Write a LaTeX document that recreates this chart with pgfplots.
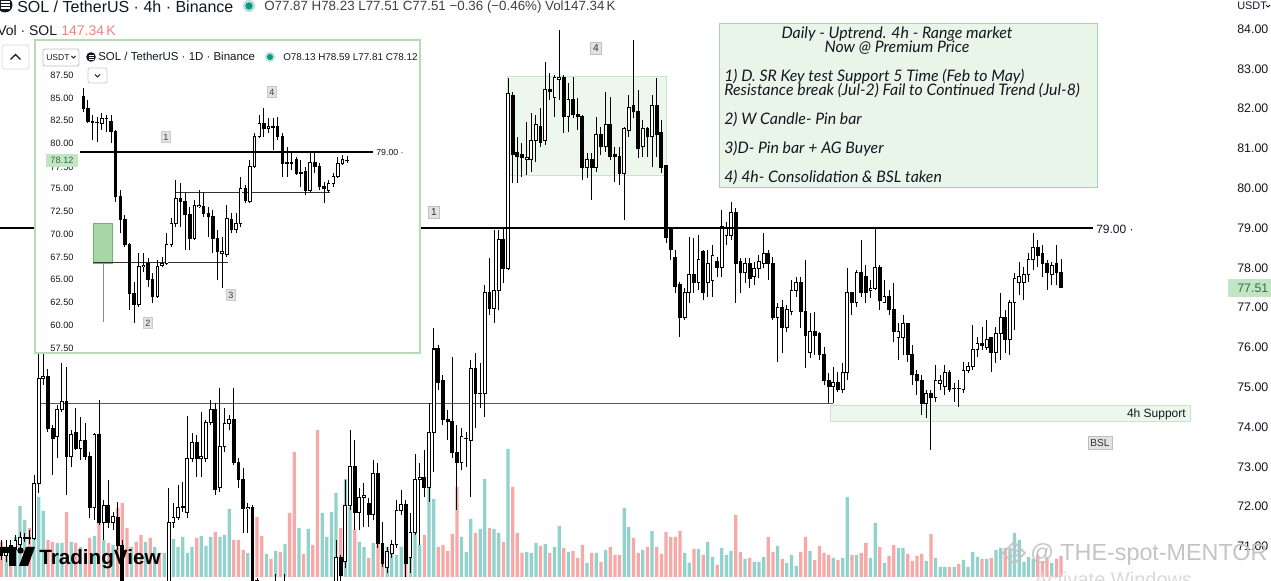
\documentclass[border=0pt]{standalone}
\usepackage{pgfplots}
\pgfplotsset{compat=1.18}
\usepackage{pgfplotstable}
\usepackage{fontspec}
\setmainfont{Liberation Sans}
\newfontfamily\boxfont{Lato}
\definecolor{tvtext}{HTML}{131722}
\definecolor{volup}{RGB}{146,210,204}
\definecolor{voldn}{RGB}{247,169,167}
\definecolor{boxfill}{RGB}{232,245,232}
\definecolor{boxborder}{RGB}{165,214,167}
\definecolor{consfill}{RGB}{237,247,237}
\definecolor{consborder}{RGB}{200,230,201}
\definecolor{insetborder}{RGB}{183,218,183}
\definecolor{lblgray}{RGB}{226,226,226}
\definecolor{tealdot}{HTML}{089981}
\definecolor{pinktext}{RGB}{240,130,130}
\definecolor{wm}{RGB}{196,196,196}
\definecolor{lastlbl}{RGB}{196,228,198}
\definecolor{lastlbltext}{RGB}{40,120,60}
\definecolor{insetgreen}{RGB}{168,214,168}
\definecolor{insetgreenb}{RGB}{110,180,110}

\pgfplotstableread{
k o h l c v
0 70.96 71.16 70.66 70.76 245
1 70.76 71.16 70.61 70.96 210
2 71.03 71.16 70.71 70.86 175
3 70.91 71.29 70.78 71.16 280
4 71.06 71.36 70.96 71.23 497
5 71.21 71.33 71.11 71.23 399
6 71.23 71.41 71.06 71.21 343
7 71.21 72.79 71.16 72.59 315
8 72.59 76.06 72.34 75.23 560
9 75.23 76.19 75.05 75.28 462
10 75.26 75.46 73.87 73.97 259
11 73.97 74.05 72.79 73.70 245
12 73.75 74.55 73.22 74.43 238
13 74.43 75.61 74.38 74.63 238
14 74.63 75.51 72.29 73.25 455
15 73.25 73.92 73.00 73.80 245
16 73.85 74.48 73.42 73.47 238
17 73.47 74.25 73.17 73.67 210
18 73.67 74.10 73.17 73.25 189
19 73.25 73.37 71.71 71.99 273
20 71.99 73.85 71.66 73.80 287
21 73.80 74.68 71.54 71.61 399
22 71.61 72.17 71.16 72.04 259
23 72.04 72.67 71.46 71.61 238
24 71.61 71.86 71.41 71.76 224
25 71.73 72.12 70.91 71.03 483
26 71.03 71.16 69.90 70.15 518
27 70.10 70.12 69.30 69.60 343
28 69.60 69.95 69.40 69.85 210
29 69.85 69.95 68.95 69.20 245
30 69.20 69.50 68.70 68.95 294
31 68.95 69.55 68.80 69.40 245
32 69.40 69.60 68.90 69.10 273
33 69.10 69.80 69.00 69.60 210
34 69.60 69.85 69.20 69.40 168
35 69.40 70.05 69.30 69.95 168
36 69.95 72.47 69.85 71.59 140
37 71.59 72.09 71.46 71.73 266
38 71.73 72.54 71.66 71.99 210
39 71.99 72.62 71.86 72.01 280
40 71.84 74.28 71.71 73.22 168
41 73.22 73.85 73.12 73.62 210
42 73.62 73.80 72.74 73.20 273
43 73.20 74.38 72.74 73.25 287
44 73.22 74.18 73.12 74.12 217
45 74.12 74.68 74.05 74.43 280
46 74.43 74.60 72.29 72.42 315
47 72.47 74.98 72.37 73.50 280
48 73.50 74.48 73.37 74.10 294
49 74.10 74.30 73.92 74.18 476
50 74.18 74.98 73.05 73.12 259
51 73.12 73.22 72.47 72.67 259
52 72.67 72.97 71.33 71.96 189
53 71.96 72.09 71.33 71.99 168
54 71.99 72.04 69.90 70.15 448
55 70.15 70.20 69.40 69.65 420
56 69.65 69.90 69.02 69.28 287
57 69.35 69.95 69.20 69.78 161
58 69.78 69.98 69.28 69.45 126
59 69.45 70.30 69.35 69.95 182
60 69.95 70.05 69.35 69.53 175
61 69.53 70.30 69.45 69.90 231
62 69.90 70.05 69.10 69.28 448
63 69.28 69.60 68.65 68.90 875
64 68.90 69.85 68.77 69.65 343
65 69.65 69.90 69.15 69.35 161
66 69.35 69.95 69.20 69.85 336
67 69.85 69.98 69.35 69.53 224
68 69.53 69.80 68.65 68.90 1029
69 68.90 69.78 68.85 69.60 448
70 69.60 69.95 69.48 69.85 280
71 69.85 70.10 69.65 70.05 455
72 70.05 71.16 69.95 70.73 588
73 70.73 70.78 70.10 70.28 343
74 70.61 72.67 70.46 72.04 686
75 72.04 73.92 71.91 73.00 490
76 73.00 73.67 71.41 71.86 329
77 71.86 72.47 71.41 72.24 245
78 72.24 72.59 71.49 72.29 210
79 72.09 72.22 71.49 71.79 133
80 71.79 73.17 71.66 72.82 238
81 72.82 73.10 70.96 71.08 329
82 71.08 71.61 70.48 70.58 224
83 70.46 70.98 70.33 70.86 210
84 70.81 71.16 70.71 71.06 224
85 71.06 72.17 70.96 71.91 154
86 71.91 72.42 71.79 72.06 210
87 72.06 72.17 70.23 70.58 168
88 70.71 71.84 70.33 71.36 308
89 71.36 73.32 71.29 72.67 448
90 72.67 73.10 71.03 72.72 224
91 72.72 73.42 72.24 72.49 294
92 72.49 74.60 72.12 73.87 630
93 73.87 76.49 72.87 75.96 546
94 75.96 76.06 74.93 75.13 210
95 75.18 75.31 74.05 74.18 224
96 74.20 74.43 73.67 74.15 182
97 74.15 75.76 73.22 73.35 301
98 73.35 74.05 71.91 73.10 630
99 73.10 73.97 72.92 73.75 280
100 73.70 73.87 73.00 73.72 175
101 73.67 75.68 72.24 75.48 406
102 75.48 75.86 73.97 74.85 308
103 74.83 75.61 74.48 74.85 336
104 74.83 77.57 74.25 77.39 686
105 77.39 78.25 76.81 76.99 343
106 76.99 78.95 76.61 77.44 336
107 77.44 78.95 76.94 78.70 308
108 78.70 79.00 77.62 77.99 245
109 77.99 82.77 77.94 82.39 896
110 82.34 82.42 80.13 80.84 630
111 80.89 81.29 80.13 80.79 308
112 80.84 81.14 80.28 80.76 168
113 80.71 81.66 80.33 80.76 175
114 80.71 81.89 80.41 81.21 168
115 81.21 81.84 80.66 81.59 238
116 81.54 82.02 81.04 81.16 217
117 81.21 83.17 81.09 82.47 231
118 82.47 82.90 82.22 82.42 168
119 82.29 82.85 81.79 82.77 210
120 82.72 83.98 82.22 82.77 357
121 82.77 82.85 81.39 81.79 203
122 81.79 82.64 81.41 82.22 175
123 82.22 82.80 81.76 81.84 182
124 81.84 82.27 81.46 81.79 133
125 81.79 81.84 80.21 80.53 224
126 80.53 80.89 80.26 80.71 98
127 80.71 80.89 79.70 80.53 168
128 80.53 81.79 80.41 81.34 168
129 81.34 81.54 80.84 81.04 105
130 81.04 82.42 80.91 81.59 189
131 81.59 82.29 80.71 80.79 210
132 80.84 81.04 80.16 80.79 154
133 80.79 81.04 80.08 80.38 154
134 80.38 81.54 79.20 81.51 483
135 81.46 82.34 81.29 82.04 350
136 82.07 83.72 81.76 81.92 273
137 81.92 82.47 80.76 81.01 168
138 81.04 81.71 80.79 81.51 189
139 81.51 81.54 80.79 81.29 210
140 81.29 82.34 80.53 82.09 322
141 82.09 82.77 80.79 81.34 210
142 81.39 81.71 80.38 80.53 161
143 80.58 80.58 78.62 78.75 315
144 78.95 78.95 78.20 78.45 280
145 78.27 78.45 77.37 77.52 280
146 77.57 77.64 76.26 76.74 322
147 76.74 77.49 76.69 77.39 168
148 77.39 78.77 77.12 77.82 98
149 77.82 78.75 77.37 77.62 196
150 77.62 78.82 77.44 78.20 196
151 78.40 78.45 77.19 77.37 154
152 77.62 78.45 77.27 78.12 245
153 77.69 78.57 77.27 78.32 140
154 78.15 78.27 77.77 78.02 84
155 78.02 79.45 77.77 79.03 203
156 78.82 79.15 78.57 79.00 154
157 78.82 79.65 78.70 79.38 182
158 79.38 79.50 77.12 78.12 434
159 78.15 78.25 77.37 77.87 175
160 77.87 78.25 77.62 78.12 126
161 78.12 78.25 77.49 77.74 133
162 77.77 78.15 77.57 77.99 105
163 77.99 78.32 77.74 78.15 105
164 78.12 78.87 77.99 78.37 140
165 78.37 78.45 77.69 78.12 280
166 78.12 78.27 76.69 76.76 175
167 76.76 77.12 75.63 77.01 217
168 77.01 77.19 75.86 76.49 126
169 76.49 77.06 76.39 76.94 98
170 76.89 77.69 76.81 77.44 154
171 77.44 77.77 77.27 77.64 77
172 77.64 77.77 76.49 76.89 175
173 76.89 78.20 75.48 76.31 280
174 75.86 76.86 75.73 76.39 182
175 76.39 76.89 75.81 76.31 119
176 76.36 76.39 75.68 75.81 217
177 75.81 76.01 75.05 75.18 168
178 75.18 75.36 74.60 75.01 154
179 75.01 75.51 74.60 75.13 133
180 75.13 75.38 74.88 74.93 119
181 74.93 75.61 74.85 75.38 133
182 75.38 77.99 75.18 77.37 560
183 77.37 77.37 76.81 77.14 154
184 77.14 77.94 77.01 77.87 154
185 77.87 78.70 77.27 77.39 168
186 77.77 78.07 77.12 77.39 238
187 77.44 77.69 77.24 77.49 133
188 77.49 79.03 77.44 78.02 378
189 78.02 78.07 76.94 77.19 210
190 77.14 77.69 77.12 77.27 98
191 77.27 77.44 76.81 76.94 147
192 76.94 77.62 76.14 76.39 224
193 76.26 76.61 75.68 76.39 203
194 76.24 76.81 75.81 76.61 203
195 76.61 76.61 75.63 75.81 161
196 75.81 76.06 75.05 75.31 112
197 75.31 75.43 74.80 75.18 147
198 75.18 75.31 74.30 74.60 161
199 74.60 74.93 74.23 74.85 112
200 74.85 74.93 73.42 74.75 301
201 74.75 75.56 74.63 75.18 133
202 75.10 75.31 74.93 75.18 70
203 75.01 75.56 74.80 75.38 70
204 75.38 75.43 74.88 74.93 70
205 74.96 75.10 74.63 74.98 70
206 74.98 75.18 74.50 74.96 91
207 74.93 75.63 74.85 75.43 119
208 75.43 75.63 75.36 75.51 70
209 75.51 76.56 75.43 75.94 175
210 75.94 76.26 75.76 76.11 140
211 76.11 76.51 75.94 76.06 126
212 76.01 76.69 75.94 76.19 126
213 76.24 76.26 75.38 75.86 133
214 75.86 76.51 75.61 76.36 189
215 76.36 77.37 75.68 76.74 203
216 76.74 76.94 75.86 76.21 203
217 76.21 77.19 75.81 77.12 203
218 77.12 77.87 76.44 77.74 308
219 77.62 78.15 77.32 77.77 259
220 77.62 78.02 77.19 77.82 105
221 77.82 78.37 77.64 78.20 140
222 78.20 78.87 77.94 78.52 126
223 78.52 78.70 78.02 78.32 154
224 78.37 78.57 77.77 78.12 112
225 78.12 78.20 77.44 77.87 140
226 77.82 78.15 77.57 78.07 98
227 78.12 78.57 77.57 77.87 126
228 77.87 78.23 77.51 77.51 147
}\maindata

\pgfplotstableread{
j o h l c
0 85.11 86.03 83.46 83.83
1 83.83 84.75 82.18 82.36
2 82.36 83.09 80.34 82.25
3 82.25 82.91 80.16 82.30
4 82.18 83.28 81.44 82.73
5 82.73 83.09 81.26 82.70
6 82.36 83.09 79.97 81.26
7 81.26 81.44 73.55 74.10
8 74.10 74.83 70.06 71.53
9 71.53 72.08 68.60 68.78
10 68.78 68.96 61.62 63.45
11 63.45 64.74 60.15 62.17
12 62.17 67.86 61.99 66.39
13 66.39 67.86 65.84 66.57
14 66.76 67.31 64.18 64.92
15 64.92 65.66 62.35 63.09
16 63.09 67.13 62.90 66.39
17 66.57 67.49 66.39 66.76
18 66.76 70.06 66.57 68.78
19 68.78 71.71 68.60 71.16
20 71.16 75.94 70.80 73.92
21 73.92 75.57 70.80 73.55
22 73.55 74.47 68.23 72.08
23 72.08 73.00 68.23 69.51
24 69.51 73.73 69.32 73.18
25 73.00 74.83 72.82 73.18
26 73.00 74.65 71.90 72.26
27 72.26 73.00 69.69 71.90
28 71.90 72.63 67.86 69.51
29 69.51 70.43 64.92 68.04
30 67.86 69.69 64.00 68.04
31 67.68 73.18 67.49 71.71
32 71.53 72.26 70.06 70.43
33 70.43 72.26 70.06 71.16
34 71.16 76.30 70.80 75.02
35 75.02 75.39 73.37 73.73
36 73.55 78.14 73.37 77.40
37 77.40 81.08 77.22 80.71
38 80.71 83.09 80.52 82.18
39 82.18 83.83 80.71 81.63
40 81.63 82.73 81.08 81.81
41 81.81 82.73 79.24 81.75
42 81.81 82.91 80.34 80.71
43 80.71 81.08 76.30 77.77
44 77.77 79.61 76.30 77.85
45 77.85 78.87 77.04 77.80
46 78.14 78.51 76.48 76.67
47 76.67 78.14 75.20 76.74
48 76.85 77.40 74.28 74.83
49 74.83 78.87 74.65 77.85
50 77.85 78.87 76.67 77.40
51 77.40 77.77 74.83 75.20
52 75.20 75.75 73.37 75.02
53 74.83 75.94 74.65 75.57
54 75.57 76.67 75.20 76.30
55 76.30 78.51 76.12 77.77
56 77.77 78.69 77.59 78.14
57 78.13 78.59 77.81 78.12
}\insetdata

\begin{document}
\begin{tikzpicture}
\useasboundingbox (0,0) rectangle (953.25pt,435.75pt);
\fill[white] (0,0) rectangle (953.25pt,435.75pt);

% ---------- volume ----------
\begin{axis}[hide axis, at={(0pt,0pt)}, anchor=south west,
  width=953.25pt, height=435.75pt, scale only axis,
  xmin=-0.323, xmax=273.18, ymin=-28, ymax=4039]
\addplot[ybar, bar width=0.7, bar shift=0pt, fill=volup, draw=none, forget plot]
  table[x=k, y expr={\thisrow{c}>=\thisrow{o} ? \thisrow{v} : 0}] {\maindata};
\addplot[ybar, bar width=0.7, bar shift=0pt, fill=voldn, draw=none, forget plot]
  table[x=k, y expr={\thisrow{c}<\thisrow{o} ? \thisrow{v} : 0}] {\maindata};
\end{axis}

% ---------- main price chart ----------
\begin{axis}[hide axis, at={(0pt,0pt)}, anchor=south west,
  width=953.25pt, height=435.75pt, scale only axis,
  xmin=-0.323, xmax=273.18, ymin=70.131, ymax=84.729]
\filldraw[fill=consfill, draw=consborder, line width=0.75pt]
  (axis cs:108.8,80.33) rectangle (axis cs:143.2,82.80);
\filldraw[fill=consfill, draw=consborder, line width=0.75pt]
  (axis cs:178.3,74.13) rectangle (axis cs:255.8,74.53);
\draw[black!65, line width=0.75pt] (axis cs:8.3,74.58) -- (axis cs:178.9,74.58);
% wicks: from low to high
\addplot[black, line width=0.75pt, mark=none, forget plot,
  quiver={u={0}, v={\thisrow{h}-\thisrow{l}}}] table[x=k, y=l] {\maindata};
% bodies: black outline (filled for falling candles)
\addplot[black, line width=2.85pt, mark=none, forget plot,
  quiver={u={0}, v={abs(\thisrow{c}-\thisrow{o})+0.0252}}]
  table[x=k, y expr={min(\thisrow{o},\thisrow{c})-0.0126}] {\maindata};
% hollow interior of rising candles
\addplot[white, line width=1.5pt, mark=none, forget plot,
  quiver={u={0}, v={max(0,\thisrow{c}-\thisrow{o}-0.0252)}}]
  table[x=k, y expr={\thisrow{o}+0.0126}] {\maindata};
\draw[black, line width=1.5pt] (axis cs:-0.5,79) -- (axis cs:234.9,79);
\end{axis}

% ---------- inset background ----------
\begin{scope}[shift={(0pt,435.75pt)}, x=0.75pt, y=-0.75pt]
\fill[white] (35,40) rectangle (420,353);
\end{scope}

% ---------- inset daily chart ----------
\begin{axis}[hide axis, at={(26.25pt,171pt)}, anchor=south west,
  width=288.75pt, height=234.75pt, scale only axis,
  xmin=-10.43, xmax=72.72, ymin=56.88, ymax=91.355]
\filldraw[fill=insetgreen, draw=insetgreenb, line width=0.6pt]
  (axis cs:2.1,66.8) rectangle (axis cs:6.2,71.16);
\draw[black!45, line width=0.6pt] (axis cs:4.25,66.8) -- (axis cs:4.25,60.3);
\draw[black!80, line width=0.75pt] (axis cs:2.1,66.8) -- (axis cs:31.3,66.8);
\draw[black!80, line width=0.75pt] (axis cs:19.8,74.54) -- (axis cs:53.3,74.54);
\addplot[black, line width=0.75pt, mark=none, forget plot,
  quiver={u={0}, v={\thisrow{h}-\thisrow{l}}}] table[x=j, y=l] {\insetdata};
\addplot[black, line width=2.6pt, mark=none, forget plot,
  quiver={u={0}, v={abs(\thisrow{c}-\thisrow{o})+0.11}}]
  table[x=j, y expr={min(\thisrow{o},\thisrow{c})-0.055}] {\insetdata};
\addplot[white, line width=1.3pt, mark=none, forget plot,
  quiver={u={0}, v={max(0,\thisrow{c}-\thisrow{o}-0.11)}}]
  table[x=j, y expr={\thisrow{o}+0.055}] {\insetdata};
\draw[black, line width=1.1pt] (axis cs:-0.7,79) -- (axis cs:62.6,79);
\end{axis}

% ---------- decorations in pixel coordinates ----------
\begin{scope}[shift={(0pt,435.75pt)}, x=0.75pt, y=-0.75pt]
\draw[insetborder, line width=1.5pt] (35,40) rectangle (420,353);
\foreach \yy/\t in {75/87.50, 98/85.00, 120.5/82.50, 143/80.00, 188.5/75.00,
  211/72.50, 234/70.00, 257/67.50, 279.5/65.00, 302/62.50, 325/60.00, 348/57.50, 167/77.50}
  \node[font=\fontsize{6.9}{8}\selectfont, text=tvtext, inner sep=0] at (62,\yy) {\t};
\node[fill=lastlbl, text=lastlbltext, font=\fontsize{6.9}{8}\selectfont, inner sep=0pt,
  minimum width=24.5pt, minimum height=10pt] at (62,160.5) {78.12};
\node[anchor=west, font=\fontsize{6.6}{8}\selectfont, text=tvtext, inner sep=0] at (376,152) {79.00 ·};
\draw[black!25, rounded corners=1.5pt, line width=0.6pt] (43,49) rectangle (79,66);
\node[anchor=base west, font=\fontsize{6.4}{8}\selectfont, text=tvtext, inner sep=0] at (46,60.5) {USDT};
\draw[tvtext, line width=0.6pt] (71.5,56) -- (73.5,58) -- (75.5,56);
\fill[tvtext] (91,57) circle (4.8);
\foreach \dy in {-2,0,2} \draw[white, line width=0.6pt] (88.5,57+\dy) -- (93.5,57+\dy);
\node[anchor=base west, font=\fontsize{8.6}{10}\selectfont, text=tvtext, inner sep=0] at (98,61) {SOL / TetherUS · 1D · Binance};
\fill[tealdot!30] (270,57) circle (5);
\fill[tealdot] (270,57) circle (3);
\node[anchor=base west, font=\fontsize{7.4}{9}\selectfont, text=tvtext, inner sep=0] at (283,60.5) {O78.13 H78.59 L77.81 C78.12};
\draw[black!20, rounded corners=1.5pt, line width=0.6pt] (88,68) rectangle (107,83);
\draw[tvtext, line width=0.6pt] (95,74.5) -- (97.5,77) -- (100,74.5);
\foreach \xx/\yy/\t in {166/137/1, 148/323/2, 231/295/3, 272/92/4}
  \node[fill=lblgray, draw=black!20, line width=0.4pt, inner sep=1.6pt,
    font=\fontsize{6.8}{8}\selectfont, text=black!75] at (\xx,\yy) {\t};

\foreach \xx/\yy/\t in {434/212/1, 596/48/4, 1100/443/BSL}
  \node[fill=lblgray, draw=black!25, line width=0.4pt, inner sep=2pt,
    font=\fontsize{7.6}{9}\selectfont, text=black!80] at (\xx,\yy) {\t};
\node[anchor=east, font=\fontsize{9}{10}\selectfont, text=tvtext, inner sep=0] at (1186,414) {4h Support};
\node[anchor=west, font=\fontsize{9}{10}\selectfont, text=tvtext, inner sep=0] at (1096,229) {79.00 ·};

\foreach \p in {71,...,84}
  \node[anchor=west, font=\fontsize{9.3}{10}\selectfont, text=tvtext, inner sep=0]
    at (1237,{29+(84-\p)*39.8}) {\p.00};
\fill[lastlbl] (1228,279) rectangle (1271,297);
\node[anchor=west, font=\fontsize{9.3}{10}\selectfont, text=lastlbltext, inner sep=0] at (1237,288) {77.51};
\node[anchor=base west, font=\fontsize{8.2}{9}\selectfont, text=tvtext, inner sep=0] at (1237,10) {USDT};
\draw[tvtext, line width=0.6pt] (1266,5) -- (1268,7) -- (1270,5);

\fill[tvtext] (5,5) circle (7.5);
\foreach \dy in {-3,0,3} \draw[white, line width=0.9pt] (0.5,5+\dy) -- (9.5,5+\dy);
\node[anchor=base west, font=\fontsize{12}{14}\selectfont, text=tvtext, inner sep=0] at (17,12.5) {SOL / TetherUS · 4h · Binance};
\fill[tealdot!30] (249,6) circle (6);
\fill[tealdot] (249,6) circle (3.6);
\node[anchor=base west, font=\fontsize{10}{12}\selectfont, text=black!75, inner sep=0] at (264,11) {O77.87 H78.23 L77.51 C77.51 −0.36 (−0.46\%) Vol147.34\,K};
\node[anchor=base west, font=\fontsize{10.5}{12}\selectfont, text=tvtext, inner sep=0] at (-3,35.5) {Vol · SOL};
\node[anchor=base west, font=\fontsize{10.5}{12}\selectfont, text=pinktext, inner sep=0] at (61,35.5) {147.34\,K};
\draw[black!15, rounded corners=2pt, line width=0.6pt] (2,45) rectangle (29,69);
\draw[tvtext, line width=1pt] (10.5,59.5) -- (15.5,54.5) -- (20.5,59.5);

\draw[boxborder, fill=boxfill, line width=0.75pt] (719,24) rectangle (1097,188);
\begin{scope}[every node/.style={font=\boxfont\itshape\fontsize{11.9}{13}\selectfont, text=tvtext, inner sep=0}]
\node[anchor=base] at (897,38.5) {Daily - Uptrend. 4h - Range market};
\node[anchor=base] at (897,52.5) {Now @ Premium Price};
\node[anchor=base west] at (724,81.5) {1) D. SR Key test Support 5 Time (Feb to May)};
\node[anchor=base west] at (724,95.5) {Resistance break (Jul-2) Fail to Continued Trend (Jul-8)};
\node[anchor=base west] at (724,124.5) {2) W Candle- Pin bar};
\node[anchor=base west] at (724,153.5) {3)D- Pin bar + AG Buyer};
\node[anchor=base west] at (724,182.5) {4) 4h- Consolidation \& BSL taken};
\end{scope}

\fill[black] (2,547) -- (16,547) -- (16,566) -- (9,566) -- (9,553) -- (2,553) -- cycle;
\fill[black] (20.5,550.5) circle (3.2);
\fill[black] (26,547) -- (35,547) -- (28,566) -- (19,566) -- cycle;
\node[anchor=base west, font=\bfseries\fontsize{15.5}{18}\selectfont, text=black, inner sep=0] at (39,565) {TradingView};

\draw[wm, line width=1.2pt] (1014,542) -- (1025,553) -- (1014,564) -- (1003,553) -- cycle;
\draw[wm, line width=1pt] (1014,548) -- (1019,553) -- (1014,558) -- (1009,553) -- cycle;
\node[anchor=base west, font=\fontsize{17.5}{20}\selectfont, text=wm, inner sep=0] at (1030,561) {@ THE-spot-MENTOR};
\node[anchor=base west, font=\fontsize{15}{18}\selectfont, text=black!15, inner sep=0] at (1034,587) {Activate Windows};
\end{scope}
\end{tikzpicture}
\end{document}
